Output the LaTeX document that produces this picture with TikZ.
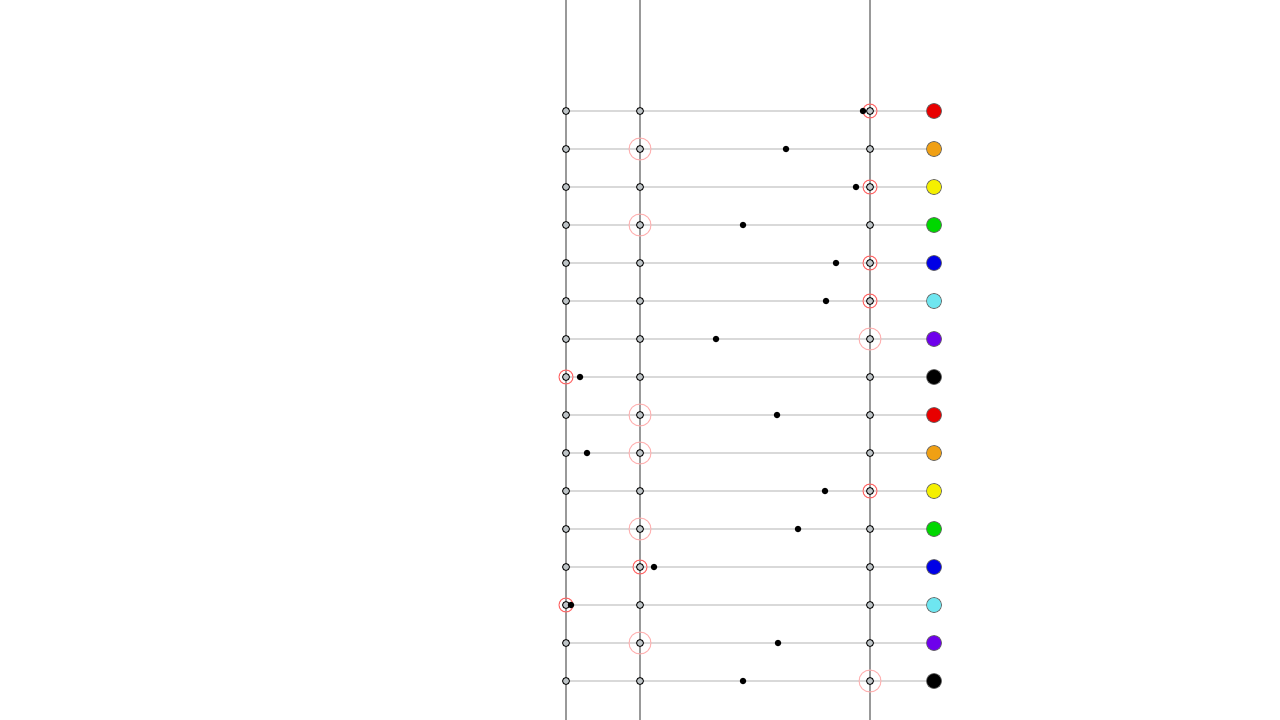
\documentclass[tikz,border=0pt]{standalone}
\usepackage{tikz}
\definecolor{tagred}{RGB}{232,0,0}
\definecolor{tagorange}{RGB}{240,160,20}
\definecolor{tagyellow}{RGB}{245,240,0}
\definecolor{taggreen}{RGB}{0,215,0}
\definecolor{tagblue}{RGB}{0,0,230}
\definecolor{tagcyan}{RGB}{110,230,240}
\definecolor{tagpurple}{RGB}{110,0,235}
\definecolor{tagblack}{RGB}{0,0,0}
\tikzset{
  rail/.style={
    draw=gray!80,
    line width=1.5pt
  },
  rung/.style={
    draw=gray!30,
    line width=1.1pt
  },
  joint/.style={
    circle,
    draw=black!90,
    fill=cyan!10!gray!55,
    line width=1pt,
    inner sep=0pt,
    minimum size=7pt
  },
  marker/.style={
    circle,
    fill=black,
    inner sep=0pt,
    minimum size=6.5pt
  },
  halo small/.style={
    circle,
    draw=red!60,
    line width=1pt,
    inner sep=0pt,
    minimum size=14pt
  },
  halo big/.style={
    circle,
    draw=red!30,
    line width=1pt,
    inner sep=0pt,
    minimum size=22pt
  },
  tag/.style={
    circle,
    draw=black!60,
    line width=0.7pt,
    inner sep=0pt,
    minimum size=15pt
  }
}

\begin{document}
\begin{tikzpicture}[x=1pt, y=-1pt]
    \useasboundingbox (0,0) rectangle (1280,720);
    % 三条竖轨: a, b, c
    \foreach \r/\x in {a/566, b/640, c/870} {
      \coordinate (top-\r) at (\x, 0);
      \coordinate (bot-\r) at (\x, 720);
      \draw[rail] (top-\r) -- (bot-\r);
    }

    % 每一行: 行号 / 光圈所在轨 / 光圈大小 / 黑点横坐标 / 色标
    \foreach \i/\ring/\size/\dotx/\clr in {
        1/c/small/863/tagred,
        2/b/big/786/tagorange,
        3/c/small/856/tagyellow,
        4/b/big/743/taggreen,
        5/c/small/836/tagblue,
        6/c/small/826/tagcyan,
        7/c/big/716/tagpurple,
        8/a/small/580/tagblack,
        9/b/big/777/tagred,
        10/b/big/587/tagorange,
        11/c/small/825/tagyellow,
        12/b/big/798/taggreen,
        13/b/small/654/tagblue,
        14/a/small/571/tagcyan,
        15/b/big/778/tagpurple,
        16/c/big/743/tagblack} {
      \pgfmathsetmacro{\y}{111 + 38*(\i-1)}
      % 色标与横线
      \node[tag, fill=\clr] (tag-\i) at (934, \y) {};
      \coordinate (start-\i) at (566, \y);
      \draw[rung] (start-\i) -- (tag-\i);
      % 三个节点
      \node[joint] (\i-a) at (566, \y) {};
      \node[joint] (\i-b) at (640, \y) {};
      \node[joint] (\i-c) at (870, \y) {};
      % 光圈和黑点
      \node[halo \size] (halo-\i) at (\i-\ring) {};
      \node[marker] (dot-\i) at (\dotx, \y) {};
    }
  \end{tikzpicture}
\end{document}
